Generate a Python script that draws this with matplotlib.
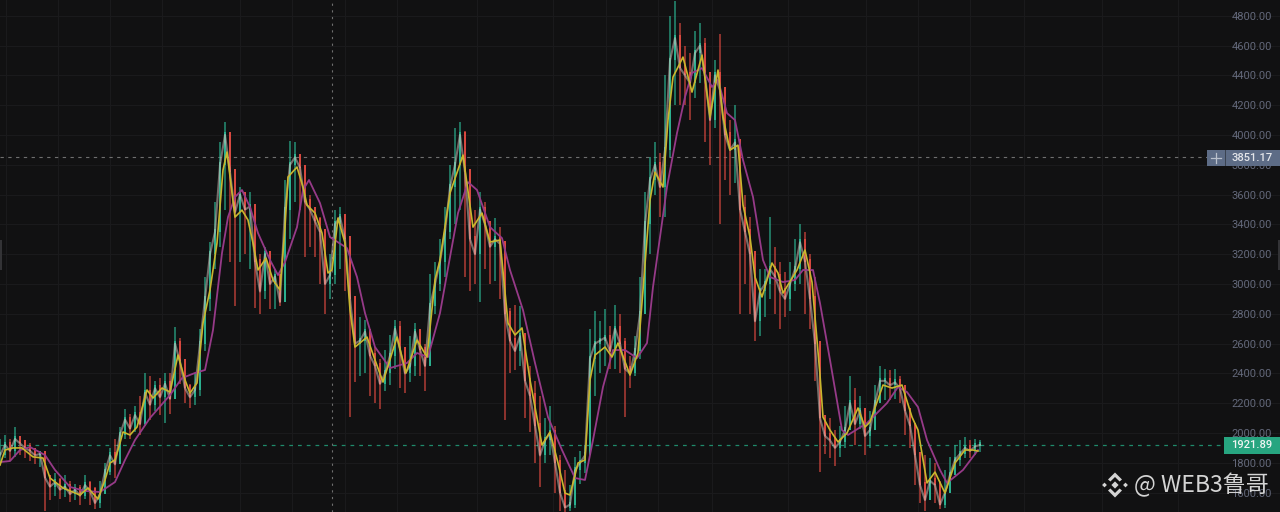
import numpy as np
import matplotlib
matplotlib.use("Agg")
import matplotlib.pyplot as plt
from matplotlib.patches import Rectangle, Polygon

close = [
1850,1920,1880,1960,1930,1900,1880,1850,1860,1700,1640,1670,1620,1640,1590,1620,1580,1650,1610,1530,
1590,1740,1850,1790,1990,2090,2030,2120,2060,2270,2190,2300,2240,2330,2230,2600,2480,2300,2240,2290,
2600,2900,3200,3350,3800,4000,3750,3480,3600,3500,3520,3150,2950,3200,3000,3050,2880,3500,3800,3850,
3780,3550,3500,3420,3350,3000,3060,3400,3450,3300,2900,2600,2620,2680,2520,2450,2330,2400,2520,2700,
2560,2400,2450,2680,2560,2450,2850,3000,3150,3350,3650,3800,4000,3750,3300,3200,3500,3400,3250,3300,
3270,2800,2620,2550,2650,2350,2250,2050,1850,1950,2000,1800,1600,1500,1520,1750,1800,1850,2500,2600,
2620,2640,2550,2700,2600,2430,2400,2550,2800,3400,3700,3800,3650,3900,4500,4650,4450,4400,4350,4550,
4600,4400,4100,4400,4300,4000,3900,3950,3500,3350,3200,2750,2950,3000,3100,3050,2950,2900,3000,3100,
3280,3150,2900,2600,2100,1980,1950,1900,1940,2020,2200,2060,2150,1980,2020,2200,2350,2350,2320,2340,
2300,2150,2050,1850,1650,1550,1680,1650,1520,1600,1720,1820,1860,1900,1880,1910,1920]
high = [
1960,1990,1960,2040,1980,1950,1930,1900,1880,1870,1720,1730,1700,1720,1680,1660,1650,1720,1680,1640,
1680,1800,1900,1960,2040,2160,2130,2180,2250,2400,2380,2350,2370,2400,2400,2710,2640,2480,2330,2400,
2700,3050,3280,3550,3950,4085,4000,3620,3650,3600,3620,3400,3200,3250,3150,3100,3050,3700,3960,3950,
3870,3700,3600,3520,3450,3180,3200,3500,3520,3450,3250,2800,2780,2760,2680,2580,2500,2560,2660,2760,
2750,2520,2650,2740,2700,2600,3070,3150,3300,3520,3800,4050,4090,4030,3750,3500,3620,3550,3420,3440,
3380,3150,2840,2860,2850,2650,2450,2350,2250,2100,2180,2050,1850,1750,1650,1840,1880,1920,2700,2820,
2750,2830,2720,2860,2800,2640,2520,2650,3050,3620,3850,3950,3880,4400,4800,4900,4750,4600,4550,4700,
4750,4650,4350,4500,4680,4180,4100,4200,3950,3600,3450,3150,3100,3100,3450,3250,3150,3080,3150,3300,
3400,3350,3200,3050,2550,2100,2100,2020,2050,2180,2380,2300,2250,2160,2150,2320,2450,2430,2420,2430,
2380,2300,2160,2050,1850,1850,1830,1800,1680,1750,1840,1920,1950,1970,1950,1960,1950]
low = [
1800,1830,1810,1840,1850,1830,1810,1790,1770,1480,1550,1580,1560,1570,1540,1550,1520,1560,1520,1490,
1500,1620,1720,1700,1830,1960,1960,2010,1990,2050,2090,2150,2120,2070,2130,2250,2330,2200,2170,2190,
2250,2550,2820,3100,3250,3500,3150,2850,3150,3200,3100,2840,2800,2900,2830,2830,2850,3000,3300,3550,
3500,3180,3250,3180,3000,2800,2900,3000,3100,2950,2110,2340,2380,2400,2250,2200,2160,2280,2320,2430,
2300,2270,2340,2380,2380,2280,2600,2800,2950,3050,3300,3400,3500,3050,2950,3000,2880,3100,3000,3020,
2900,2090,2400,2420,2450,2100,2010,1800,1640,1800,1850,1600,1480,1470,1480,1500,1660,1730,2000,2250,
2400,2450,2430,2430,2400,2110,2300,2380,2500,2850,3200,3600,3450,3450,3850,4200,4200,4200,4100,4250,
4350,3950,3800,4050,3400,3700,3600,3680,2800,3000,2800,2620,2650,2780,2900,2800,2700,2780,2820,2950,
3000,2800,2700,2350,1740,1860,1830,1780,1840,1900,2030,1920,2030,1850,1900,2050,2200,2220,2220,2230,
2200,1990,1900,1650,1530,1480,1560,1530,1490,1500,1620,1720,1780,1830,1830,1850,1870]

fast_pos = [0,1,2.6,4.4,6.6,8.6,10,12.6,16,17.6,19.6,21,22,23,24,24.6,26,27.4,29.4,30.6,32.4,34,35.6,37,38,39.4,
40.6,42,43.4,44.6,45.4,46.4,47,48.4,49.6,50.6,51.6,53.2,54.6,56,57,57.6,59.4,60.6,61.4,63,64.4,65.6,66.4,67.6,69,70,
71,73.4,75,76.6,79.4,81.2,83.4,85.4,87,88,90,92.6,94.6,96.4,98,100,101.6,103,104.4,106,108.4,110,111.6,113,114,115.6,117,118,119,
121,122.4,123.6,126,127.6,128.6,130,131,132.6,133.6,134.6,136.6,138.4,140.4,142,143.6,144.6,146,147.6,148.6,150,151,152.4,154.4,155.6,156.6,159.4,161,162.4,163.4,164,164.6,166,167.6,169.4,171.6,173,174,176.6,178.4,180.4,182.4,183.6,185.4,187,189,191,193,194.6,195.6]
fast_val = [1785,1886,1900,1900,1840,1832,1698,1631,1584,1631,1557,1685,1799,1819,1933,2007,1987,2040,2289,2235,2302,2275,2523,2356,2268,2336,
2738,2960,3275,3765,3886,3610,3449,3496,3429,3275,3094,3174,3027,2960,3382,3718,3785,3651,3530,3476,3342,3074,3094,3443,3275,2825,
2577,2644,2490,2342,2644,2403,2624,2510,3027,3161,3610,3865,3382,3476,3282,3295,2738,2658,2705,2356,1919,2007,1799,1597,1584,1799,1819,2356,2523,2577,2510,
2604,2389,2537,2960,3563,3751,3651,4100,4389,4523,4288,4536,4120,4436,4120,3899,3932,3530,3315,3047,2913,3141,3074,2939,3094,3228,3013,2624,2389,2107,2020,1940,2000,2168,2040,2074,2322,2302,2322,2107,2020,1665,1738,1597,1799,1886,1886,1879]

slow_pos = [0,2,4,6,9,11,14,17,20,23,25,27,30,34,36.4,39,41,42.6,44.4,45.6,47,48.4,50,51.6,54,55.6,57,59.4,60.6,61.8,64,66,69.4,71.4,73,75,78,81.4,83.4,85.6,88,90,91.6,93.6,95.4,98,100.4,102,104.6,107,109.6,112.4,115,117,118.6,120.6,122.6,125,127.4,129.4,130.6,133.4,135.4,137,138.4,140.4,142.4,143.6,145.4,147,148.6,150.6,152.6,154,156.6,159,160.6,162.6,164,166,168.4,169.6,173.4,177.4,179.6,181.4,183.6,185.4,188,189.4,192.6,195.6]
slow_val = [1805,1812,1886,1906,1852,1752,1638,1611,1604,1671,1819,1953,2101,2255,2369,2403,2423,2691,3208,3449,3584,3631,3516,3342,3161,3060,3147,3382,3631,3698,3543,3315,3241,3047,2805,2577,2436,2470,2537,2510,2805,3181,3476,3684,3631,3382,3308,3094,2825,2470,2107,1886,1698,1685,1953,2309,2557,2557,2503,2604,2980,3651,4013,4255,4416,4449,4322,4369,4147,4100,3832,3584,3161,3047,3013,3027,3094,3094,2872,2490,2020,1987,2067,2201,2309,2275,2174,1953,1752,1665,1752,1886]

price_ticks = [4800,4600,4400,4200,4000,3800,3600,3400,3200,3000,2800,2600,2400,2200,2000,1800,1600]
time_grid = [1.2,11.6,22,32.4,48,58.4,69,79.4,95.4,110.6,121.2,131.6,142.4,157.6,173.2,183.6,194,204.8,220.4,235.6]
last_price = 1921.89
cross_price = 3851.17
cross_bar = 66.4

BG = "#111112"
GREEN = "#2bb08f"
RED = "#d8483f"

fig = plt.figure(figsize=(12.8, 5.12), dpi=100, facecolor=BG)
ax = fig.add_axes([0, 0, 1, 1], facecolor=BG)
ax.set_xlim(0, 256)
ax.set_ylim(1470, 4906)
for s in ax.spines.values():
    s.set_visible(False)
ax.set_xticks([])
ax.yaxis.tick_right()
ax.set_yticks(price_ticks)
ax.set_yticklabels([f"{p:.2f}" for p in price_ticks], fontsize=8, color="#63687a", family="Roboto")
ax.tick_params(axis="y", length=0, direction="in", pad=-35)
ax.set_axisbelow(True)
ax.grid(axis="y", color="#1a1a1c", lw=0.8)
for t in time_grid:
    ax.axvline(t, color="#1a1a1c", lw=0.8, zorder=0.5)

x = np.arange(len(close))
c = np.array(close, float)
o = np.r_[c[0], c[:-1]]
cols = [GREEN if a >= b else RED for a, b in zip(c, o)]
ax.vlines(x, low, high, colors=cols, lw=1.1, alpha=0.8, zorder=2)
ax.bar(x, np.abs(c - o) + 20, bottom=np.minimum(c, o), width=0.45, color=cols, zorder=2.2, lw=0)
ax.plot(x, c, color="#d9c9c2", lw=1.5, alpha=0.5, zorder=2.4)
ax.plot(slow_pos, slow_val, color="#963a88", lw=1.3, zorder=3, solid_joinstyle="round")
ax.plot(fast_pos, fast_val, color="#c9b62e", lw=1.2, zorder=3.2, solid_joinstyle="round")

ax.axhline(cross_price, color="#6f6f6f", lw=0.8, dashes=(3, 4), zorder=1)
ax.axvline(cross_bar, color="#6f6f6f", lw=0.8, dashes=(2, 4), zorder=1)
ax.axhline(last_price, color="#1f8a6b", lw=0.9, dashes=(3, 4), zorder=1)

# overlay in pixel coordinates for price tags and watermark
ov = fig.add_axes([0, 0, 1, 1], facecolor="none")
ov.set_xlim(0, 1280)
ov.set_ylim(512, 0)
ov.axis("off")
ov.add_patch(Rectangle((1207, 150), 73, 16, color="#5d6c86", lw=0))
ov.add_patch(Rectangle((1225, 150), 1.2, 16, color=BG, alpha=0.45, lw=0))
ov.plot([1211, 1221], [158, 158], color="#b9c0cc", lw=0.9)
ov.plot([1216, 1216], [153, 163], color="#b9c0cc", lw=0.9)
ov.text(1252, 158, f"{cross_price:.2f}", color="#e4e6ea", fontsize=8, family="Roboto",
        ha="center", va="center", fontweight="medium")
ov.add_patch(Rectangle((1224, 437), 56, 17, color="#27a580", lw=0))
ov.text(1252, 445.5, f"{last_price:.2f}", color="#f0f5f3", fontsize=8, family="Roboto",
        ha="center", va="center", fontweight="medium")
ov.add_patch(Rectangle((0, 240), 1.5, 30, color="#333336", lw=0))
ov.add_patch(Rectangle((1278, 240), 2, 30, color="#333336", lw=0))

wm = "#d4d4d4"
cx, cy = 1115, 485
def diamond(dx, dy, r):
    ov.add_patch(Polygon([(cx + dx, cy + dy - r), (cx + dx + r, cy + dy),
                          (cx + dx, cy + dy + r), (cx + dx - r, cy + dy)], color=wm, lw=0))
diamond(0, 0, 3.6)
diamond(-10.5, 0, 2.4)
diamond(10.5, 0, 2.4)
for sy in (-1, 1):
    ov.add_patch(Polygon([(cx - 7, cy + sy * 5.5), (cx, cy + sy * 12.5), (cx + 7, cy + sy * 5.5),
                          (cx + 4.6, cy + sy * 3.5), (cx, cy + sy * 8), (cx - 4.6, cy + sy * 3.5)],
                         color=wm, lw=0))
ov.text(1134, 485, "@ WEB3鲁哥", color=wm, fontsize=16.6,
        family=["Noto Sans CJK SC", "DejaVu Sans"], ha="left", va="center")

fig.savefig("out.png", dpi=100, facecolor=BG)
